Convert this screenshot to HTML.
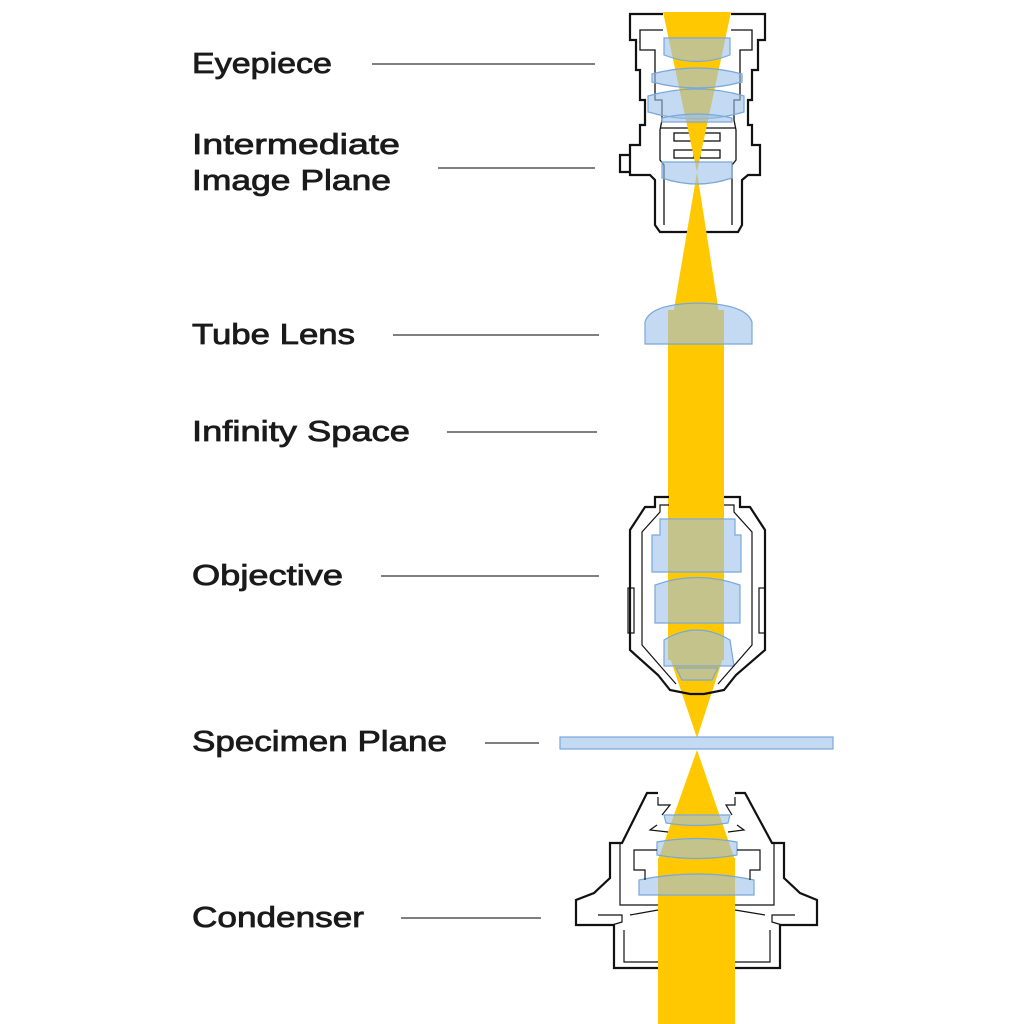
<!DOCTYPE html>
<html><head><meta charset="utf-8"><style>
html,body{margin:0;padding:0;background:#fff}
svg{display:block}
text{font-family:"Liberation Sans",sans-serif;font-weight:normal;font-size:29px;fill:#1a1a1a;stroke:#1a1a1a;stroke-width:0.8}
</style></head><body>
<svg width="1024" height="1024" viewBox="0 0 1024 1024" xmlns="http://www.w3.org/2000/svg">
<text x="192" y="73" textLength="140" lengthAdjust="spacingAndGlyphs">Eyepiece</text>
<text x="192" y="154" textLength="208" lengthAdjust="spacingAndGlyphs">Intermediate</text>
<text x="192" y="190" textLength="199" lengthAdjust="spacingAndGlyphs">Image Plane</text>
<text x="192" y="344" textLength="163" lengthAdjust="spacingAndGlyphs">Tube Lens</text>
<text x="192" y="441" textLength="218" lengthAdjust="spacingAndGlyphs">Infinity Space</text>
<text x="192" y="585" textLength="151" lengthAdjust="spacingAndGlyphs">Objective</text>
<text x="192" y="751" textLength="255" lengthAdjust="spacingAndGlyphs">Specimen Plane</text>
<text x="192" y="927" textLength="172" lengthAdjust="spacingAndGlyphs">Condenser</text>
<g stroke="#333" stroke-width="1.3">
<line x1="372" y1="64" x2="595" y2="64"/>
<line x1="438" y1="168" x2="595" y2="168"/>
<line x1="393" y1="335" x2="599" y2="335"/>
<line x1="447" y1="432" x2="597" y2="432"/>
<line x1="381" y1="576" x2="599" y2="576"/>
<line x1="485" y1="743" x2="539" y2="743"/>
<line x1="401" y1="918" x2="541" y2="918"/>
</g>

<g fill="none" stroke="#111" stroke-width="2.2">
<path d="M663 14 L630 14 L630 40 L636 40 L636 70 L640 70 L640 100 L645 100 L645 125 L640 125 L640 145 L630 145 L630 175 L650 175 L655 180 L655 225 L660 232 L738 232 L742 225 L742 180 L748 175 L760 175 L760 145 L752 145 L752 125 L748 125 L748 100 L752 100 L752 70 L758 70 L758 40 L765 40 L765 14 L731 14"/>
<path d="M630 155 L620 155 L620 172 L630 172"/>
</g>
<g fill="none" stroke="#111" stroke-width="1.3">
<path d="M663 30 L640 30 L640 50 L655 50 L655 100 L662 100 L662 120 L660 130 L660 160 L664 165 L664 225"/>
<path d="M731 30 L752 30 L752 50 L740 50 L740 100 L734 100 L734 120 L736 130 L736 160 L732 165 L732 225"/>
<rect x="674" y="133" width="20" height="8"/><rect x="700" y="133" width="20" height="8"/>
<rect x="674" y="150" width="20" height="8"/><rect x="700" y="150" width="20" height="8"/>
<line x1="660" y1="128" x2="736" y2="128"/>
</g>
<g fill="#ffc800">
<polygon points="663,12 731,12 697,172"/>
<polygon points="697,172 668,345 724,345"/>
<rect x="668" y="310" width="56" height="350"/>
<polygon points="669,655 724,655 697,738"/>
<polygon points="697,750 658,860 735,860"/>
<rect x="658" y="858" width="77" height="166"/>
</g>
<g fill="#9cc0ea" fill-opacity="0.6" stroke="#7aa8d8" stroke-width="1.2">
<path d="M664 38 L730 38 L730 55 Q697 68 664 55 Z"/>
<path d="M652 74 Q697 62 742 74 L742 82 Q697 94 652 82 Z"/>
<path d="M648 96 Q697 82 744 96 L744 112 Q697 126 648 112 Z"/>
<path d="M662 118 Q697 110 732 118 L732 122 L662 122Z"/>
<path d="M662 162 L732 162 L732 178 Q697 190 662 178 Z"/>
<path d="M645 322 Q650 304 698 303 Q746 304 752 322 L752 344 L645 344 Z"/>
<path d="M660 519 L735 519 L735 535 L741 535 L741 572 L652 572 L652 535 L660 535 Z"/>
<path d="M655 585 Q697 570 740 585 L740 623 L655 623 Z"/>
<path d="M664 640 Q697 620 730 640 L734 666 L664 666 Z"/>
<path d="M676 668 L718 668 L712 680 L682 680 Z"/>
<rect x="560" y="737" width="273" height="12"/>
<path d="M664 815 L730 815 L728 823 Q697 828 666 823 Z"/>
<path d="M657 842 Q697 835 737 842 L737 855 Q697 862 657 855 Z"/>
<path d="M639 880 Q697 868 754 880 L754 895 L639 895 Z"/>
</g>
<g fill="none" stroke="#111" stroke-width="2.2">
<path d="M669 497 L655 497 L655 507 L645 507 L630 530 L630 650 L658 675 L670 690 L690 694 L704 694 L724 690 L736 675 L765 650 L765 530 L750 507 L740 507 L740 497 L724 497"/>
</g>
<g fill="none" stroke="#111" stroke-width="1.2">
<path d="M669 505 L660 505 L660 512 L642 532 L642 645 L662 668 L676 684 M724 505 L734 505 L734 512 L752 532 L752 645 L732 668 L718 684"/>
<rect x="628" y="588" width="6" height="45"/><rect x="759" y="588" width="6" height="45"/>
</g>
<g fill="none" stroke="#111" stroke-width="2.2">
<path d="M658 793 L647 793 L622 843 L610 843 L610 878 L594 893 L576 900 L576 925 L614 925 L614 968 L658 968 M735 968 L780 968 L780 925 L817 925 L817 900 L800 893 L784 878 L784 843 L772 843 L745 793 L735 793"/>
</g>
<g fill="none" stroke="#111" stroke-width="1.2">
<path d="M658 797 L658 805 L670 805 L662 815 M735 797 L735 805 L726 805 L732 815"/>
<path d="M657 825 L650 830 L668 832 M737 825 L744 830 L728 832"/>
<path d="M657 850 L634 850 L634 870 L645 870 L645 880 M737 850 L760 850 L760 870 L750 870 L750 880"/>
<path d="M620 843 L620 905 L658 905 M774 843 L774 905 L735 905"/>
<path d="M598 915 L622 915 L622 922 L612 925 M795 915 L772 915 L772 922 L782 925"/>
<path d="M624 930 L624 962 L658 962 M770 930 L770 962 L735 962"/>
<path d="M630 915 L658 910 M765 915 L735 910"/>
</g>
</svg>
</body></html>
